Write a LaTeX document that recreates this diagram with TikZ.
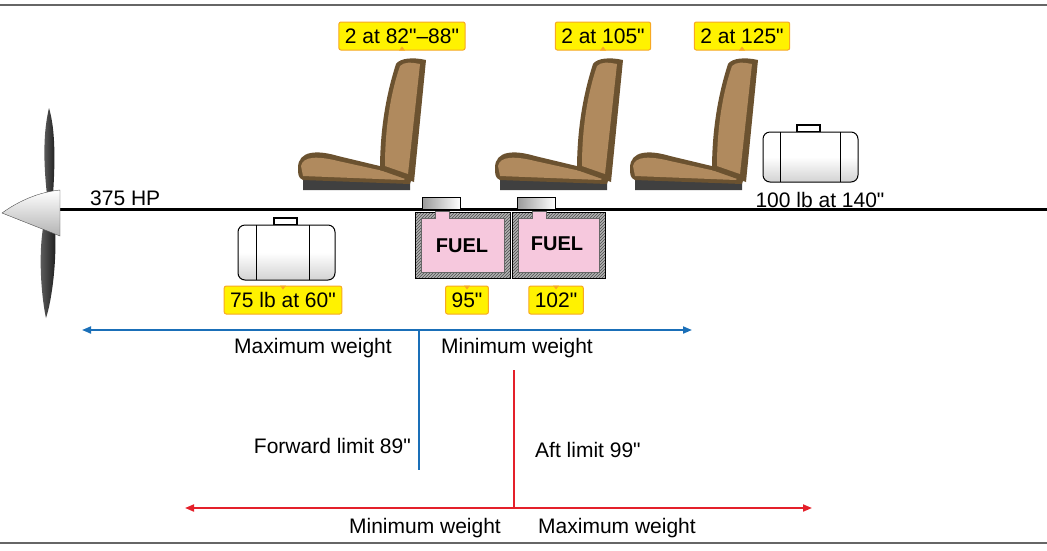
\documentclass[tikz,border=0pt]{standalone}
\usepackage{fontspec}
\setmainfont{Liberation Sans}[Ligatures=TeXOff]
\usetikzlibrary{arrows.meta,patterns}
\newcommand{\qq}{\symbol{34}}
\definecolor{lbl}{HTML}{FFF200}
\definecolor{lblb}{HTML}{F7A823}
\definecolor{bl}{HTML}{1A6FB8}
\definecolor{rd}{HTML}{E4202A}
\definecolor{seatA}{HTML}{B08A5E}
\definecolor{seatB}{HTML}{6B5230}
\definecolor{fuelp}{HTML}{F6C8DD}
\begin{document}
\begin{tikzpicture}[x=1pt,y=-1pt,
  txt/.style={font=\fontsize{21}{24}\selectfont,inner sep=0pt},
  tag/.style={txt,fill=lbl,draw=lblb,line width=1pt,rounded corners=2pt,inner xsep=6pt,inner ysep=4pt,minimum height=28pt},
  tip/.style={fill=lblb},
  suit/.style={draw=black,line width=1pt,rounded corners=7pt,shade,top color=white,bottom color=gray!35,middle color=white},
  warrow/.style={line width=1.8pt}]
\useasboundingbox (0,0) rectangle (1047,550);
\draw[gray!80!black,line width=1.5pt] (0,5) -- (1047,5);
\draw[gray!80!black,line width=1.5pt] (0,543) -- (1047,543);
% axis
\coordinate (axL) at (60,209); \coordinate (axR) at (1047,209);
\draw[line width=3pt] (axL) -- (axR);
% propeller
\shade[left color=black!60,right color=black!90] (47,195) .. controls (42,150) and (45,125) .. (49,108) .. controls (54,125) and (56,150) .. (53,195) -- cycle;
\shade[left color=black!60,right color=black!90] (43,228) .. controls (38,260) and (42,300) .. (46,318) .. controls (52,300) and (57,260) .. (55,228) -- cycle;
\shade[top color=white,bottom color=gray!60,draw=gray!60!black] (60,190) -- (60,236) -- (2,213) .. controls (20,200) and (40,192) .. (60,190) -- cycle;
\node[txt,anchor=base west] (hp) at (90,205) {375 HP};
% seats
\foreach \x in {298,495,630}{
 \begin{scope}[shift={(\x,0)}]
  \fill[black!75] (5,172) -- (112,182) -- (112,190) -- (5,190) -- cycle;
  \fill[seatB] (0,168) .. controls (0,150) and (20,150) .. (40,156) -- (115,174) -- (112,184) -- (5,180) .. controls (0,178) and (0,174) .. (0,168) -- cycle;
  \fill[seatA] (3,166) .. controls (5,156) and (20,156) .. (40,161) -- (108,176) -- (106,180) -- (5,176) -- cycle;
  \fill[seatB] (98,64) .. controls (102,58) and (115,57) .. (128,60) -- (116,182) -- (82,170) .. controls (82,130) and (88,95) .. (98,64) -- cycle;
  \fill[seatA] (102,66) .. controls (106,62) and (112,62) .. (122,64) -- (110,174) -- (87,166) .. controls (87,130) and (92,95) .. (102,66) -- cycle;
 \end{scope}}
% suitcases
\draw[line width=1.5pt] (274,225) rectangle (297,218);
\draw[suit] (238,225) rectangle (335,280);
\draw (256,225) -- (256,280) (309,225) -- (309,280);
\draw[line width=1.5pt] (797,132) rectangle (820,125);
\draw[suit] (763,132) rectangle (858,182);
\draw (780,132) -- (780,182) (840,132) -- (840,182);
% fuel tanks
\foreach \a/\b/\c in {415/510/422,512/605/517}{
 \fill[gray!60] (\a,212) rectangle (\b,278);
 \fill[pattern=north east lines,pattern color=black!70] (\a,212) rectangle (\b,278);
 \draw[line width=1pt] (\a,212) rectangle (\b,278);
 \fill[fuelp,draw=black!60] (\a+6,218) -- (\a+20,218) -- (\a+20,211) -- (\a+34,211) -- (\a+34,218) -- (\b-6,218) -- (\b-6,272) -- (\a+6,272) -- cycle;
 \shade[left color=gray!80,right color=white,draw=black] (\c,197) rectangle (\c+38,209);
}
\node[txt,font=\fontsize{20}{22}\selectfont\bfseries] (f1) at (462,246) {FUEL};
\node[txt,font=\fontsize{20}{22}\selectfont\bfseries] (f2) at (557,244) {FUEL};
% tags
\node[tag] (t1) at (402,36) {2 at 82\qq–88\qq};
\node[tag] (t2) at (603,36) {2 at 105\qq};
\node[tag] (t3) at (742,36) {2 at 125\qq};
\node[tag] (t4) at (283,300) {75 lb at 60\qq};
\node[tag] (t5) at (467,300) {95\qq};
\node[tag] (t6) at (556,300) {102\qq};
\foreach \t in {t1,t2,t3}{\fill[tip] ([xshift=-3pt]\t.south) -- ([xshift=3pt]\t.south) -- ([yshift=4pt]\t.south) -- cycle;}
\foreach \t in {t4,t5,t6}{\fill[tip] ([xshift=-3pt]\t.north) -- ([xshift=3pt]\t.north) -- ([yshift=-4pt]\t.north) -- cycle;}
\node[txt] (l100) at (820,200) {100 lb at 140\qq};
% blue
\coordinate (bL) at (82,330); \coordinate (bR) at (692,330);
\coordinate (bT) at (419,330); \coordinate (bB) at (419,470);
\draw[warrow,bl,{Triangle[length=9pt,width=7pt]}-{Triangle[length=9pt,width=7pt]}] (bL) -- (bR);
\draw[bl,line width=2.5pt] (bT) -- (bB);
\node[txt] (bmx) at (313,348) {Maximum weight};
\node[txt] (bmn) at (517,348) {Minimum weight};
\node[txt,anchor=east] (fl) at (411,446) {Forward limit 89\qq};
% red
\coordinate (rT) at (514,370); \coordinate (rB) at (514,508);
\coordinate (rL) at (185,508); \coordinate (rR) at (812,508);
\draw[rd,line width=2.5pt] (rT) -- (rB);
\draw[warrow,rd,{Triangle[length=9pt,width=7pt]}-{Triangle[length=9pt,width=7pt]}] (rL) -- (rR);
\node[txt,anchor=west] (al) at (535,450) {Aft limit 99\qq};
\node[txt] (rmn) at (425,528) {Minimum weight};
\node[txt] (rmx) at (617,528) {Maximum weight};
\end{tikzpicture}
\end{document}
